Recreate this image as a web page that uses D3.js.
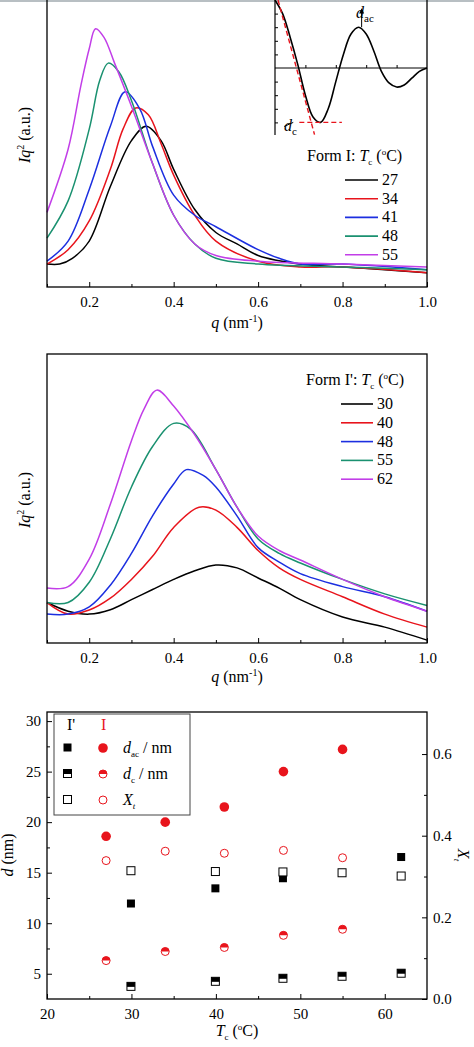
<!DOCTYPE html>
<html><head><meta charset="utf-8">
<script src="https://cdn.jsdelivr.net/npm/d3@7"></script>
<style>body{margin:0;background:#fff}svg,svg text{font-family:"Liberation Serif","Times New Roman","DejaVu Serif",serif}</style>
</head><body><svg id="c" width="474" height="1047" font-family="Liberation Serif, serif"></svg>
<script>
// ---------- data ----------
const topLabels = ["27","34","41","48","55"];
const topColors = ["#000000","#e8141c","#1c2fe0","#1a9170","#c23ee8"];
const topQ = [
 [0.1,0.13,0.16,0.2,0.25,0.3,0.335,0.37,0.4,0.45,0.5,0.55,0.6,0.7,0.8,0.9,1.0],
 [0.1,0.15,0.2,0.25,0.28,0.31,0.34,0.37,0.4,0.45,0.5,0.6,0.7,0.8,1.0],
 [0.1,0.15,0.2,0.25,0.285,0.32,0.35,0.4,0.45,0.5,0.6,0.65,0.7,0.8,1.0],
 [0.1,0.15,0.2,0.225,0.245,0.27,0.3,0.35,0.4,0.45,0.5,0.6,0.8,1.0],
 [0.1,0.15,0.18,0.2,0.215,0.235,0.26,0.3,0.35,0.4,0.45,0.5,0.6,0.8,1.0]];
const topI = [
 [8,8,10,16,35,51,56,51,41,27,19,15,11,8,7,6,5],
 [8,13,23,41,55,62.4,60,50,39,25,16,9,7,7,5],
 [9,16,34,56,68,62,49,32,25,21,13,10,8,8,6],
 [17,30,55,72,78,75,65,43,25,15,10,8,7,6],
 [26,48,70,83,90,87,78,63,43,25,15,11,9,8,7]];
const midLabels = ["30","40","48","55","62"];
const midQ = [
 [0.1,0.15,0.2,0.25,0.3,0.35,0.4,0.45,0.5,0.55,0.6,0.65,0.7,0.8,0.9,1.0],
 [0.1,0.15,0.2,0.25,0.3,0.35,0.4,0.46,0.5,0.55,0.6,0.65,0.7,0.8,0.9,1.0],
 [0.1,0.15,0.2,0.25,0.3,0.35,0.4,0.43,0.47,0.5,0.55,0.6,0.65,0.7,0.8,0.9,1.0],
 [0.1,0.15,0.2,0.25,0.3,0.35,0.4,0.44,0.5,0.55,0.6,0.65,0.7,0.8,0.9,1.0],
 [0.1,0.15,0.2,0.25,0.3,0.33,0.36,0.4,0.45,0.5,0.55,0.6,0.65,0.7,0.8,0.9,1.0]];
const midI = [
 [14,11,10,11.5,15,18.5,22,25,27,26,22.5,19,15,9,5.5,1],
 [14,10,11.4,15.5,22,30,40,47,46,40,32,26,22,16,10,5.5],
 [10,10,12.5,20,31,44,55,60,58,54,44,33,28,24,19.5,16,11],
 [14,14,21,36,54,68,76,74,60,47,36,31,27.7,22,17,13],
 [19,19.5,29,48,70,81,87.5,82,72,60,47,37,32,28.7,22,16,11]];
const insetR = [0,0.05,0.1,0.15,0.2,0.25,0.3,0.35,0.4,0.45,0.5,0.55,0.6,0.65,0.7,0.75,0.8,0.85,0.9,0.95,1.0];
const insetG = [1.0,0.8,0.45,0.05,-0.4,-0.72,-0.8,-0.6,-0.2,0.2,0.5,0.6,0.5,0.25,-0.05,-0.22,-0.28,-0.25,-0.15,-0.05,0];
const tcIp = [30,40,48,55,62];
const dacIp = [11.9,13.4,14.4,null,16.5];
const dcIp = [3.7,4.2,4.5,4.7,5.0];
const xtIp = [0.313,0.311,0.310,0.308,0.300];
const tcI = [27,34,41,48,55];
const dacI = [18.6,20.0,21.5,25.0,27.2];
const dcI = [6.3,7.2,7.6,8.8,9.4];
const xtI = [0.339,0.362,0.357,0.364,0.346];

const svg = d3.select("#c");
const SERIF="Liberation Serif, Times New Roman, serif";
const midColors = topColors;
const L=47,R=427;

function frame(top,bot){
  svg.append("rect").attr("x",L).attr("y",top).attr("width",R-L).attr("height",bot-top)
   .attr("fill","none").attr("stroke","#000").attr("stroke-width",1.3);
}
function qAxis(x,bot,lblY){
  const ax=d3.axisBottom(x).tickValues([0.2,0.4,0.6,0.8,1.0]).tickFormat(d3.format(".1f")).tickSizeInner(-5).tickSizeOuter(0).tickPadding(9);
  const g=svg.append("g").attr("transform",`translate(0,${bot})`).call(ax).attr("font-family",SERIF);
  g.select(".domain").remove();g.selectAll("text").attr("font-size",15);
  svg.append("g").attr("transform",`translate(0,${bot})`).call(d3.axisBottom(x).tickValues([0.1,0.3,0.5,0.7,0.9]).tickFormat("").tickSizeInner(-3).tickSizeOuter(0)).select(".domain").remove();
  const t=svg.append("text").attr("x",237).attr("y",lblY).attr("text-anchor","middle").attr("font-size",16);
  t.append("tspan").attr("font-style","italic").text("q");
  t.append("tspan").text(" (nm");
  t.append("tspan").attr("dy",-6).attr("font-size",10).text("-1");
  t.append("tspan").attr("dy",6).text(")");
}
function yLabelI(cy){
  const t=svg.append("text").attr("transform",`translate(30,${cy}) rotate(-90)`).attr("text-anchor","middle").attr("font-size",16);
  t.append("tspan").attr("font-style","italic").text("Iq");
  t.append("tspan").attr("dy",-6).attr("font-size",10).text("2");
  t.append("tspan").attr("dy",6).text(" (a.u.)");
}
function legend(x0,y0,title,labels,colors,lx1,lx2,tx,dy){
  const t=svg.append("text").attr("x",x0).attr("y",y0).attr("font-size",16);
  t.append("tspan").text(title);
  t.append("tspan").attr("font-style","italic").text("T");
  t.append("tspan").attr("dy",4).attr("font-size",9).text("c");
  t.append("tspan").attr("dy",-4).text(" (");
  t.append("tspan").attr("dy",-6).attr("font-size",9).text("o");
  t.append("tspan").attr("dy",6).text("C)");
  labels.forEach((l,i)=>{
    const y=y0+24+i*dy;
    svg.append("line").attr("x1",lx1).attr("x2",lx2).attr("y1",y-5).attr("y2",y-5).attr("stroke",colors[i]).attr("stroke-width",1.6);
    svg.append("text").attr("x",tx).attr("y",y).attr("font-size",16).text(l);
  });
}
const smooth=d3.curveCatmullRom.alpha(0.5);

// ---------- top panel ----------
{
  const top=-1,bot=287;
  const x=d3.scaleLinear().domain([0.1,1.0]).range([L,R]);
  const y=d3.scaleLinear().domain([0,100]).range([bot,0]);
  svg.append("rect").attr("x",0).attr("y",0).attr("width",474).attr("height",2).attr("fill","#b8bfc3");
  const line=d3.line().curve(smooth).x(d=>x(d[0])).y(d=>y(d[1]));
  topQ.forEach((qs,i)=>svg.append("path").attr("d",line(qs.map((q,j)=>[q,topI[i][j]]))).attr("fill","none").attr("stroke",topColors[i]).attr("stroke-width",1.5));
  frame(top,bot);
  qAxis(x,bot,328);
  yLabelI(135);
  legend(307,161,"Form I: ",topLabels,topColors,345,378,382,18.7);
  // inset
  const ix=d3.scaleLinear().domain([0,1]).range([275,427]);
  const iy=d3.scaleLinear().domain([-1,1]).range([136,0]);
  svg.append("line").attr("x1",275).attr("x2",275).attr("y1",0).attr("y2",135).attr("stroke","#000").attr("stroke-width",1.2);
  svg.append("line").attr("x1",275).attr("x2",427).attr("y1",iy(0)).attr("y2",iy(0)).attr("stroke","#000").attr("stroke-width",1);
  svg.append("g").attr("transform","translate(275,0)").call(d3.axisRight(iy).tickValues([-0.8,-0.6,-0.4,-0.2,0.2,0.4,0.6,0.8]).tickFormat("").tickSizeOuter(0).tickSize(3)).select(".domain").remove();
  svg.append("g").attr("transform",`translate(0,${iy(0)})`).call(d3.axisTop(ix).tickValues([0.2,0.4,0.6,0.8]).tickFormat("").tickSizeOuter(0).tickSize(3)).select(".domain").remove();
  svg.append("path").attr("d",d3.line().curve(d3.curveCatmullRom).x((d,i)=>ix(insetR[i])).y(d=>iy(d))(insetG)).attr("fill","none").attr("stroke","#000").attr("stroke-width",1.6);
  svg.append("line").attr("x1",ix(0.02)).attr("y1",0).attr("x2",ix(0.26)).attr("y2",iy(-0.98)).attr("stroke","#e8141c").attr("stroke-dasharray","5,3").attr("stroke-width",1.4);
  svg.append("line").attr("x1",ix(0.16)).attr("y1",iy(-0.8)).attr("x2",ix(0.44)).attr("y2",iy(-0.8)).attr("stroke","#e8141c").attr("stroke-dasharray","5,3").attr("stroke-width",1.4);
  svg.append("line").attr("x1",ix(0.57)).attr("y1",iy(0.6)).attr("x2",ix(0.57)).attr("y2",iy(0.85)).attr("stroke","#000");
  svg.append("path").attr("d",`M${ix(0.57)-2.5},${iy(0.8)} L${ix(0.57)},${iy(0.88)} L${ix(0.57)+2.5},${iy(0.8)}Z`);
  const ta=svg.append("text").attr("x",356).attr("y",18).attr("font-size",16);
  ta.append("tspan").attr("font-style","italic").text("d");
  ta.append("tspan").attr("dy",4).attr("font-size",11).text("ac");
  svg.append("line").attr("x1",ix(0.12)).attr("y1",iy(-0.8)).attr("x2",ix(0.06)).attr("y2",iy(-0.86)).attr("stroke","#000");
  const tc=svg.append("text").attr("x",284).attr("y",131).attr("font-size",16);
  tc.append("tspan").attr("font-style","italic").text("d");
  tc.append("tspan").attr("dy",4).attr("font-size",11).text("c");
}

// ---------- middle panel ----------
{
  const top=354,bot=643;
  const x=d3.scaleLinear().domain([0.1,1.0]).range([L,R]);
  const y=d3.scaleLinear().domain([0,100]).range([bot,top]);
  const line=d3.line().curve(smooth).x(d=>x(d[0])).y(d=>y(d[1]));
  midI.forEach((vals,i)=>{
    const pts=midQ[i].map((q,j)=>[q,vals[j]]);
    svg.append("path").attr("d",line(pts)).attr("fill","none").attr("stroke",midColors[i]).attr("stroke-width",1.5);
  });
  frame(top,bot);
  qAxis(x,bot,682);
  yLabelI(500);
  legend(306,385,"Form I': ",midLabels,midColors,341,373,377,18.8);
}

// ---------- bottom panel ----------
{
  const top=712,bot=999;
  const x=d3.scaleLinear().domain([20,65]).range([L,R]);
  const y=d3.scaleLinear().domain([2.5,30.9]).range([bot,top]);
  const y2=d3.scaleLinear().domain([0,0.703]).range([bot,top]);
  frame(top,bot);
  const fmt=g=>{g.attr("font-family",SERIF);g.select(".domain").remove();g.selectAll("text").attr("font-size",15);};
  svg.append("g").attr("transform",`translate(0,${bot})`).call(d3.axisBottom(x).tickValues([20,30,40,50,60]).tickSizeInner(-5).tickSizeOuter(0).tickPadding(9)).call(fmt);
  svg.append("g").attr("transform",`translate(0,${bot})`).call(d3.axisBottom(x).tickValues([25,35,45,55]).tickFormat("").tickSizeInner(-3).tickSizeOuter(0)).call(fmt);
  svg.append("g").attr("transform",`translate(${L},0)`).call(d3.axisLeft(y).tickValues([5,10,15,20,25,30]).tickSizeInner(-5).tickSizeOuter(0).tickPadding(6)).call(fmt);
  svg.append("g").attr("transform",`translate(${L},0)`).call(d3.axisLeft(y).tickValues([7.5,12.5,17.5,22.5,27.5]).tickFormat("").tickSizeInner(-3).tickSizeOuter(0)).call(fmt);
  svg.append("g").attr("transform",`translate(${R},0)`).call(d3.axisRight(y2).tickValues([0,0.2,0.4,0.6]).tickFormat(d3.format(".1f")).tickSizeInner(-5).tickSizeOuter(0).tickPadding(6)).call(fmt);
  svg.append("g").attr("transform",`translate(${R},0)`).call(d3.axisRight(y2).tickValues([0.1,0.3,0.5]).tickFormat("").tickSizeInner(-3).tickSizeOuter(0)).call(fmt);
  const red="#e8141c", s=4.5, r=4;
  const sqFull=(cx,cy)=>svg.append("rect").attr("x",cx-s).attr("y",cy-s).attr("width",2*s-1).attr("height",2*s-1).attr("fill","#000");
  const sqHalf=(cx,cy)=>{svg.append("rect").attr("x",cx-s).attr("y",cy-s).attr("width",2*s-1).attr("height",2*s-1).attr("fill","#fff").attr("stroke","#000");
    svg.append("rect").attr("x",cx-s).attr("y",cy-s).attr("width",2*s-1).attr("height",s).attr("fill","#000");};
  const sqOpen=(cx,cy)=>svg.append("rect").attr("x",cx-s).attr("y",cy-s).attr("width",2*s-1).attr("height",2*s-1).attr("fill","#fff").attr("stroke","#000");
  const ciFull=(cx,cy)=>svg.append("circle").attr("cx",cx).attr("cy",cy).attr("r",r+0.8).attr("fill",red);
  const ciHalf=(cx,cy)=>{svg.append("circle").attr("cx",cx).attr("cy",cy).attr("r",r).attr("fill","#fff").attr("stroke",red);
    svg.append("path").attr("d",`M${cx-r},${cy} A${r},${r} 0 0 1 ${cx+r},${cy} Z`).attr("fill",red);};
  const ciOpen=(cx,cy)=>svg.append("circle").attr("cx",cx).attr("cy",cy).attr("r",r).attr("fill","none").attr("stroke",red);
  tcIp.forEach((t,i)=>{ if(dacIp[i]!=null) sqFull(x(t),y(dacIp[i])); sqHalf(x(t),y(dcIp[i])); sqOpen(x(t),y2(xtIp[i])); });
  tcI.forEach((t,i)=>{ ciFull(x(t),y(dacI[i])); ciHalf(x(t),y(dcI[i])); ciOpen(x(t),y2(xtI[i])); });
  // legend
  svg.append("rect").attr("x",54).attr("y",714).attr("width",136).attr("height",101).attr("fill","#fff").attr("stroke","#444").attr("stroke-width",1);
  svg.append("text").attr("x",67).attr("y",730).attr("font-size",16).text("I'");
  svg.append("text").attr("x",101).attr("y",730).attr("font-size",16).attr("fill",red).text("I");
  sqFull(68,748); ciFull(103,748);
  sqHalf(68,774); ciHalf(103,774);
  sqOpen(68,800); ciOpen(103,800);
  const lt=(yy,main,sub,rest)=>{const t=svg.append("text").attr("x",123).attr("y",yy).attr("font-size",16);
    t.append("tspan").attr("font-style","italic").text(main);
    t.append("tspan").attr("dy",4).attr("font-size",9).attr("font-style",sub=="t"?"italic":"normal").text(sub);
    t.append("tspan").attr("dy",-4).text(rest);};
  lt(753,"d","ac"," / nm"); lt(779,"d","c"," / nm"); lt(805,"X","t","");
  const t1=svg.append("text").attr("x",237).attr("y",1036).attr("text-anchor","middle").attr("font-size",16);
  t1.append("tspan").attr("font-style","italic").text("T");
  t1.append("tspan").attr("dy",4).attr("font-size",9).text("c");
  t1.append("tspan").attr("dy",-4).text(" (");
  t1.append("tspan").attr("dy",-6).attr("font-size",9).text("o");
  t1.append("tspan").attr("dy",6).text("C)");
  const t2=svg.append("text").attr("transform","translate(13,855) rotate(-90)").attr("text-anchor","middle").attr("font-size",16);
  t2.append("tspan").attr("font-style","italic").text("d");
  t2.append("tspan").text(" (nm)");
  const t3=svg.append("text").attr("transform","translate(458,855) rotate(90)").attr("text-anchor","middle").attr("font-size",16);
  t3.append("tspan").attr("font-style","italic").text("X");
  t3.append("tspan").attr("dy",4).attr("font-size",9).attr("font-style","italic").text("t");
}
</script></body></html>
